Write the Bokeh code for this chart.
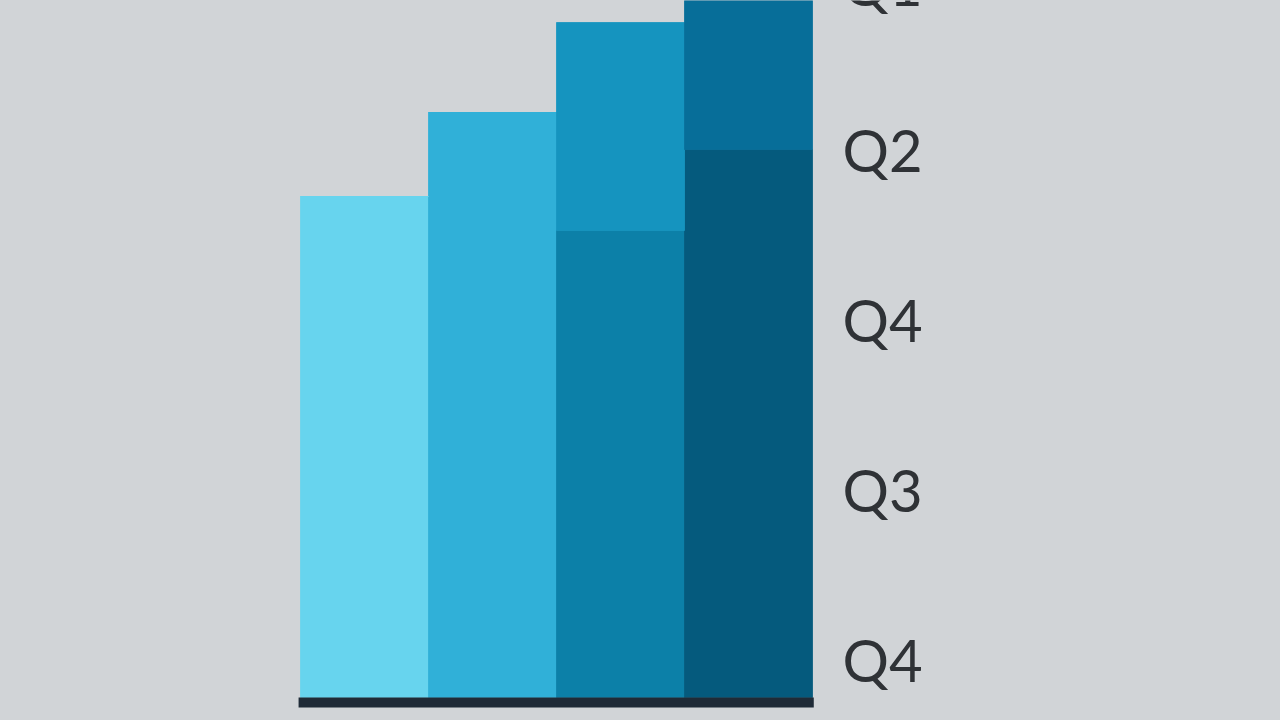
from bokeh.plotting import figure
from bokeh.models import ColumnDataSource, Range1d, GlobalInlineStyleSheet
from bokeh.core.properties import value
from bokeh.embed import file_html
from bokeh.resources import INLINE

# ---- data ----
bars = [1, 2, 3, 4]
lower_vals = [50.1, 58.5, 46.7, 54.8]
upper_vals = [0.0, 0.0, 20.8, 17.0]
lower_colors = ["#67d4ee", "#30b0d8", "#0c80a8", "#055a7d"]
upper_colors = ["#67d4ee", "#30b0d8", "#1594bf", "#076e99"]
labels = ["Q4", "Q3", "Q4", "Q2", "Q1"]
label_y = [3.8, 20.8, 37.8, 54.8, 71.4]

BG = "#d1d4d7"

src = ColumnDataSource(dict(
    x=bars,
    lower=lower_vals,
    top=[l + u for l, u in zip(lower_vals, upper_vals)],
    lc=lower_colors,
    uc=upper_colors,
))

p = figure(width=1280, height=720, output_backend="svg", toolbar_location=None,
           x_range=Range1d(-1.84375, 8.15625), y_range=Range1d(-2.3, 69.7),
           min_border=0, min_border_left=0, min_border_right=0,
           min_border_top=0, min_border_bottom=0)
p.background_fill_color = BG
p.border_fill_color = BG
p.outline_line_color = None
p.xaxis.visible = False
p.yaxis.visible = False
p.grid.visible = False
p.stylesheets = [GlobalInlineStyleSheet(css="html, body { background: #d1d4d7; }")]

p.vbar(x="x", width=1.0, bottom=0, top="lower", fill_color="lc",
       line_color="lc", line_width=0.8, source=src)
p.vbar(x="x", width=1.0, bottom="lower", top="top", fill_color="uc",
       line_color="uc", line_width=0.8, source=src)

# baseline
left = bars[0] - 0.5 - 0.015
right = bars[-1] + 0.5 + 0.01
p.quad(left=[left], right=[right], bottom=[-1.0], top=[0.0], fill_color="#1f2b37", line_color=None)

label_x = bars[-1] + 0.5 + 0.234
p.text(x=[label_x] * len(labels), y=label_y, text=labels,
       text_font=value("Lato"), text_font_size="58px", text_color="#2f3236",
       text_baseline="alphabetic", text_align="left")

open("out.html", "w").write(file_html(p, INLINE))
